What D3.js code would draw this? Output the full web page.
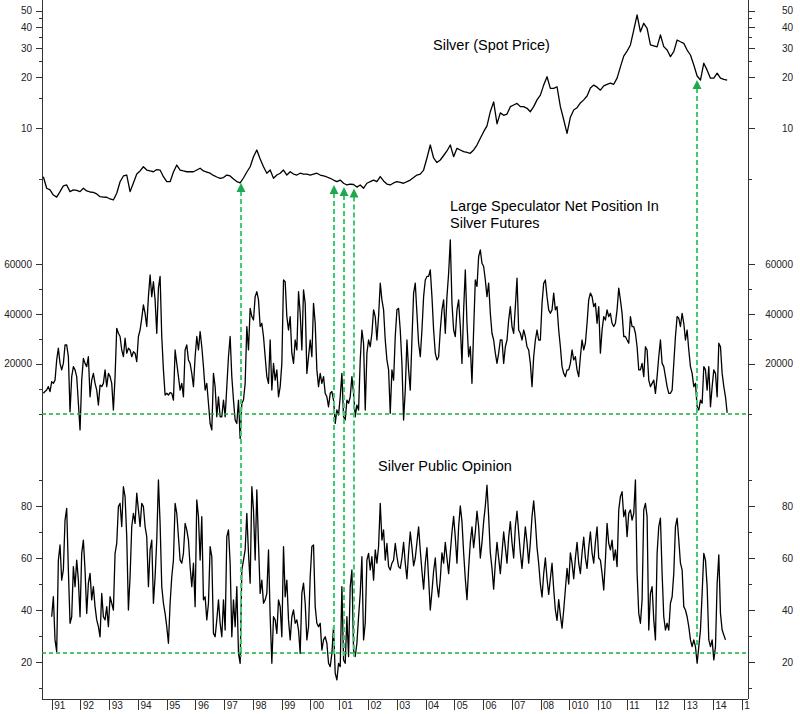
<!DOCTYPE html>
<meta charset="utf-8">
<script src="https://d3js.org/d3.v7.min.js"></script>
<style>
  body { margin: 0; background: #fff; }
  svg text { font-family: Arial, "Liberation Sans", sans-serif; }
</style>
<div id="chart"></div>
<script>

// Silver spot price ($), one reading every 0.116 yr starting 1990.71
const silverStart = 1990.71, silverStep = 0.116;
const silverPrice = [
  5.13,4.38,4.28,3.99,3.88,4.18,4.52,4.58,4.18,4.28,
  4.25,4.18,4.38,4.22,4.16,4.14,4.05,3.90,3.88,3.87,
  3.78,3.73,4.09,4.79,5.18,5.25,4.18,4.71,5.32,5.55,
  5.88,5.62,5.55,5.49,5.66,5.62,5.13,4.79,4.79,5.47,
  6.02,5.62,5.55,5.49,5.49,5.49,5.62,5.76,5.55,5.47,
  5.38,5.22,5.11,5.02,5.07,5.25,5.18,4.97,4.80,4.71,
  5.04,5.47,5.88,6.75,7.40,6.54,5.88,5.38,5.62,5.02,
  5.25,5.38,5.62,5.25,5.49,5.32,5.25,5.38,5.32,5.32,
  5.25,5.32,5.38,5.25,5.18,5.11,5.02,4.90,4.79,4.90,
  4.69,4.58,4.64,4.61,4.45,4.58,4.38,4.69,4.79,4.90,
  4.79,5.14,4.84,4.64,4.58,4.71,4.79,4.74,4.69,4.79,
  4.90,5.07,5.25,5.32,5.62,6.63,7.92,6.63,6.23,6.45,
  6.86,7.30,7.92,6.75,7.57,7.40,7.23,7.15,7.07,7.40,
  7.92,8.68,9.51,10.3,12.5,14.3,10.6,12.3,11.9,12.1,
  13.4,13.7,14.0,13.4,13.4,13.1,12.5,13.4,14.7,15.7,
  18.0,20.2,17.2,17.2,17.6,13.4,11.2,9.30,11.6,12.8,
  13.2,14.1,14.7,15.5,17.3,18.0,17.5,16.8,17.8,18.2,
  18.5,18.2,19.8,23.1,26.8,28.7,31.2,38.3,47.1,37.4,
  42.0,39.2,31.2,30.8,30.4,35.8,30.5,29.1,26.6,28.5,
  33.4,32.6,31.9,29.1,27.2,23.7,20.4,19.3,24.3,22.1,
  19.8,19.8,21.2,19.8,19.5,19.3
];

// Large speculator net position (contracts), every 0.058 yr starting 1990.71
const specStart = 1990.71, specStep = 0.058;
const specNet = [
  8100,8800,9400,10800,8800,12800,12100,13400,21500,26200,
  20100,17500,20100,27500,27500,22800,700,14800,18800,17500,
  14800,4100,-6600,13400,22100,20100,18800,22800,6700,13400,
  16100,12100,9400,3400,11400,10800,12100,17500,10800,16100,
  14800,12100,1400,14800,34200,32200,30900,25500,22800,30200,
  24200,26200,25500,22800,24800,24200,20800,30900,33500,38200,
  43600,40200,34900,46900,55600,46900,52900,45600,32200,50300,
  55000,30900,17500,7400,8100,7400,8400,8100,5400,25500,
  20100,14800,9400,12100,6700,25500,27500,21500,20100,16100,
  10800,22800,30900,25500,32900,26800,18800,9400,12100,4100,
  -4000,-6600,16100,10800,-1300,6700,-1300,-1300,5400,-1300,
  10800,22800,30900,14800,5400,-2600,-4000,5400,-10000,4100,
  5400,12100,34900,25500,42200,38900,37500,46900,48900,45600,
  34900,36200,30900,22800,14800,12100,29500,9400,20100,13400,
  17500,6700,10800,20100,53600,52900,38900,33500,38900,24200,
  20100,29500,25500,48900,40200,25500,49600,44200,16100,22800,
  29500,22800,44200,36200,17500,10800,16100,12100,14800,8100,
  6700,2700,8100,8800,5400,-4000,1400,-600,6700,16100,
  -1300,-2600,5400,4100,6700,14800,8100,-1300,3400,1400,
  21500,33500,28200,1400,24200,29500,26800,32200,41600,38900,
  29500,38900,52300,45600,41600,29500,21500,17500,
  100,17500,13400,30900,41600,42200,33500,20100,-2600,9400,
  29500,17500,9400,29500,48300,52300,40200,28200,22800,33500,
  46900,53600,55000,55000,57600,46900,33500,24200,21500,22800,
  33500,41600,45600,32200,46900,56300,69700,44200,33500,30900,
  41600,45600,34900,20100,41600,57600,36200,22800,26800,12100,
  33500,53600,51000,63000,65700,60300,59000,53600,46900,52300,
  40200,32200,29500,24200,20100,24200,29500,29500,20100,26800,
  29500,37500,42900,34900,32200,42900,54300,33500,32200,29500,
  33500,30900,26800,25500,20100,10800,22800,29500,33500,29500,
  29500,44200,52300,53600,46900,41600,40200,41600,48300,41600,
  42900,33500,26800,18800,16100,14800,17500,17500,20100,25500,
  21500,22800,17500,14800,22800,29500,25500,28200,36200,45600,
  48300,46900,42900,44200,36200,42900,24200,33500,38900,37500,
  41600,38900,40200,36200,34900,36200,41600,50300,45600,40200,
  30900,30900,29500,28200,38900,34900,34900,32200,26800,17500,
  17500,20100,14800,26800,25500,13400,10800,12100,13400,8100,
  14800,22800,29500,20100,18800,14800,10800,8100,8100,9400,
  20100,30900,38900,38200,34900,40200,36200,29500,33500,25500,
  18800,16100,10800,12100,2700,1400,5400,4100,18800,17500,
  9400,18800,2700,10800,17500,16100,6700,28200,26800,16100,
  10800,6700,300
];

// Silver public opinion (%), every 0.058 yr starting 1991.0
const opinionStart = 1991.0, opinionStep = 0.058;
const opinion = [
  37.4,45.1,28.5,24.0,59.2,65.0,51.5,55.4,74.6,79.1,
  55.4,34.9,37.4,56.7,49.0,59.2,51.5,37.4,61.8,66.9,
  55.4,38.7,50.3,54.1,43.9,49.0,41.3,36.2,33.6,29.7,
  46.4,37.4,36.2,41.3,33.6,45.1,42.6,40.0,61.8,65.6,
  79.8,81.0,72.1,87.4,83.6,68.2,40.0,52.8,72.1,77.2,
  73.3,84.9,78.5,72.1,81.0,79.8,72.1,68.2,49.0,63.1,
  66.9,42.6,52.8,66.9,90.0,73.3,49.0,42.6,38.7,33.6,
  27.2,42.6,52.8,59.2,81.0,77.2,68.2,59.2,58.0,61.8,
  73.3,70.8,66.9,56.7,49.0,58.0,41.3,82.3,75.9,59.2,
  75.9,43.9,45.1,36.2,42.6,64.4,60.5,31.0,29.7,36.2,
  43.9,34.9,29.7,43.9,32.3,68.2,70.8,58.0,29.7,43.9,
  33.6,49.0,23.3,19.5,55.4,59.2,63.1,77.2,61.8,50.3,
  87.4,78.5,59.2,86.2,65.6,46.4,51.5,42.6,43.9,46.4,
  63.1,37.4,19.5,37.4,36.2,31.0,43.9,41.3,29.7,64.4,
  45.1,51.5,36.2,28.5,37.4,40.0,34.9,36.2,32.3,23.3,
  46.4,50.3,42.6,28.5,33.6,52.8,64.4,65.0,41.3,34.9,
  33.6,34.9,24.6,28.5,29.7,27.2,19.5,18.2,23.3,33.6,
  15.6,13.1,19.5,18.2,49.0,20.8,19.5,37.4,22.1,49.0,
  55.4,24.6,22.1,27.2,37.4,46.4,60.5,28.5,34.9,59.2,
  61.8,55.4,60.5,51.5,63.1,58.0,64.4,81.0,66.9,70.8,
  59.2,65.6,56.7,55.4,58.0,59.2,65.6,60.5,56.7,
  56,60,66,58,52,62,70,64,57,60,
  66,72,63,55,48,58,64,52,40,47,
  55,60,50,45,52,62,58,66,60,54,
  62,70,76,68,58,72,80,74,62,52,
  44,56,66,72,64,70,78,72,60,66,
  74,80,88,76,62,56,48,58,66,60,
  54,62,70,64,58,68,74,66,60,72,
  78,70,62,56,64,72,66,58,66,76,
  82,74,64,58,50,45,54,60,52,46,
  52,58,48,40,36,44,38,33,40,48,
  56,50,62,58,52,60,66,58,54,62,
  68,60,56,64,70,62,58,66,72,60,
  59.2,54.1,47.7,59.2,73.3,65.6,63.1,66.9,59.2,63.1,
  56.7,78.5,83.6,85.5,75.9,78.5,68.2,77.2,78.5,74.6,
  77.2,90.0,54.1,38.7,34.9,43.9,78.5,81.0,75.9,32.3,
  46.4,49.0,36.2,28.5,61.8,72.1,75.3,54.1,37.4,32.3,
  34.9,32.3,42.6,45.1,54.1,72.1,75.3,66.9,58.0,55.4,
  41.3,40.0,37.4,33.6,28.5,25.9,28.5,25.9,19.5,25.9,
  32.3,46.4,61.8,59.2,49.0,28.5,25.9,28.5,20.8,25.9,
  50.3,61.2,38.7,32.3,30.4,28.5
];

// axis ticks
const yearTicks = d3.range(1991, 2016);
const yearLabels = ["91","92","93","94","95","96","97","98","99","00","01","02","03","04",
                    "05","06","07","08","010","10","11","12","13","14","1"];
const priceMajor = [10, 20, 30, 40, 50], priceMinor = [5, 15, 25, 35, 45];
const specMajor = [20000, 40000, 60000], specMinor = [0, 10000, 30000, 50000];
const opMajor = [20, 40, 60, 80], opMinor = [10, 30, 50, 70, 90];

// buy signals: date, price at arrow tip, opinion at line end
const signalYears = [1997.57, 2000.82, 2001.18, 2001.53, 2013.43];
const signalPrice = [4.71, 4.58, 4.45, 4.36, 19.3];
const signalOpinion = [22, 22, 22, 22, 26];
const specLevel = 0, opinionLevel = 23.5;

const W = 800, H = 714, L = 42, R = 748, B = 699;

const svg = d3.select("#chart").append("svg")
    .attr("width", W).attr("height", H);

const x = d3.scaleLinear().domain([1990.663, 2015.215]).range([L, R]);
const yPrice = d3.scaleLog().domain([10, 100]).range([128, -40]);
const ySpec = d3.scaleLinear().domain([0, 60000]).range([413.5, 264]);
const yOp = d3.scaleLinear().domain([0, 100]).range([714, 454]);

// frame
const frame = svg.append("g").attr("stroke", "#333").attr("shape-rendering", "crispEdges");
frame.append("line").attr("x1", L).attr("x2", L).attr("y1", 0).attr("y2", B);
frame.append("line").attr("x1", R).attr("x2", R).attr("y1", 0).attr("y2", B);
frame.append("line").attr("x1", L).attr("x2", R).attr("y1", B).attr("y2", B);

function sideAxes(scale, major, minor, fmt) {
  [[d3.axisLeft, L, 6, 3, 4, 0], [d3.axisRight, R, 7, 4, 38, 1]].forEach(([make, px, big, small, pad, right]) => {
    const gMin = svg.append("g").attr("transform", `translate(${px},0)`)
      .call(make(scale).tickValues(minor).tickSize(small).tickFormat(""));
    const gMaj = svg.append("g").attr("transform", `translate(${px},0)`)
      .call(make(scale).tickValues(major).tickSize(big).tickPadding(pad).tickFormat(fmt));
    [gMin, gMaj].forEach(g => {
      g.select(".domain").remove();
      g.selectAll("line").attr("stroke", "#333").attr("shape-rendering", "crispEdges");
      g.selectAll("text").attr("fill", "#222").style("font-size", "10px");
    });
    if (right) gMaj.selectAll("text").attr("text-anchor", "end");
  });
}
sideAxes(yPrice, priceMajor, priceMinor, d3.format("d"));
sideAxes(ySpec, specMajor, specMinor, d3.format("d"));
sideAxes(yOp, opMajor, opMinor, d3.format("d"));

// time axis
const gx = svg.append("g").attr("transform", `translate(0,${B})`)
  .call(d3.axisBottom(x).tickValues(yearTicks).tickSize(11)
        .tickFormat((d, i) => yearLabels[i]));
gx.select(".domain").remove();
gx.selectAll("line").attr("stroke", "#333").attr("shape-rendering", "crispEdges");
gx.selectAll("text").attr("x", 2).attr("y", 3).attr("text-anchor", "start")
  .attr("fill", "#222").style("font-size", "10px");

// series
function drawSeries(values, start, step, yScale) {
  const line = d3.line()
    .x((d, i) => x(start + i * step))
    .y(d => yScale(d));
  svg.append("path").datum(values)
    .attr("fill", "none").attr("stroke", "#000").attr("stroke-width", 1.3)
    .attr("stroke-linejoin", "round")
    .attr("d", line);
}
drawSeries(silverPrice, silverStart, silverStep, yPrice);
drawSeries(specNet, specStart, specStep, ySpec);
drawSeries(opinion, opinionStart, opinionStep, yOp);

// reference levels
const green = "#16b034";
[[ySpec, specLevel], [yOp, opinionLevel]].forEach(([s, v]) => {
  const yy = Math.round(s(v));
  svg.append("line")
    .attr("x1", L).attr("x2", R).attr("y1", yy).attr("y2", yy)
    .attr("stroke", green).attr("stroke-width", 1.6).attr("stroke-dasharray", "4,3");
});

// signal arrows
signalYears.forEach((t, i) => {
  const px = Math.round(x(t)), tip = yPrice(signalPrice[i]);
  svg.append("line")
    .attr("x1", px).attr("x2", px).attr("y1", tip + 8).attr("y2", yOp(signalOpinion[i]))
    .attr("stroke", "#3fcc70").attr("stroke-width", 2).attr("stroke-dasharray", "5,3");
  svg.append("path")
    .attr("d", `M${px},${tip}L${px - 4.5},${tip + 9}L${px + 4.5},${tip + 9}Z`)
    .attr("fill", "#1fa84f");
});

// titles
const titles = svg.append("g").attr("fill", "#000").style("font-size", "14.5px");
titles.append("text").attr("x", 433).attr("y", 50).text("Silver (Spot Price)");
titles.append("text").attr("x", 450).attr("y", 211).text("Large Speculator Net Position In");
titles.append("text").attr("x", 450).attr("y", 228).text("Silver Futures");
titles.append("text").attr("x", 378).attr("y", 471).text("Silver Public Opinion");

</script>
